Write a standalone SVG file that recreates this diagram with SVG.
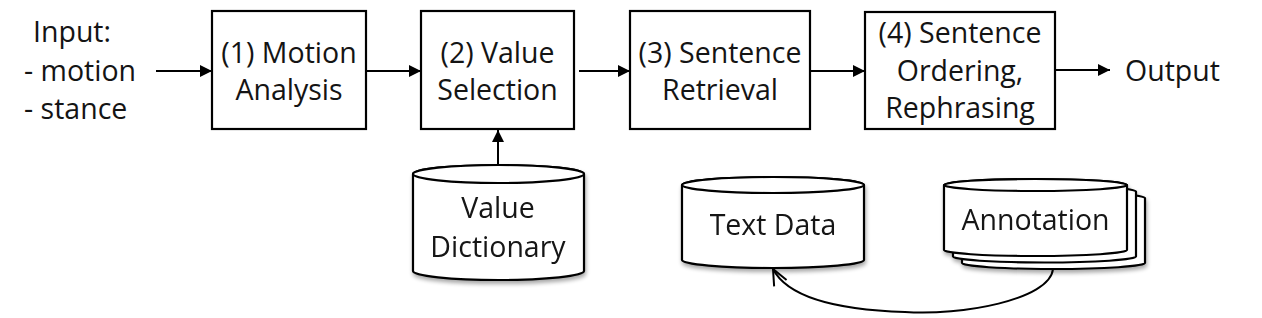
<svg xmlns="http://www.w3.org/2000/svg" width="1262" height="318" viewBox="0 0 1262 318">
<style>
text{font-family:"Open Sans","Liberation Sans",sans-serif;font-size:28.5px;fill:#141414}
.c{text-anchor:middle}
.box{fill:#fff;stroke:#000;stroke-width:2.2}
.cyl{fill:#fff;stroke:#000;stroke-width:2.2}
.ln{fill:none;stroke:#000;stroke-width:2}
</style>
<defs>
<marker id="ah" viewBox="0 0 12 12" refX="12" refY="6" markerWidth="12" markerHeight="12" markerUnits="userSpaceOnUse" orient="auto">
<path d="M0,0 L12,6 L0,12 Z" fill="#000"/>
</marker>
<marker id="oh" viewBox="0 0 20 20" refX="18" refY="10" markerWidth="20" markerHeight="20" markerUnits="userSpaceOnUse" orient="auto">
<path d="M2,3 L18,10 L2,17" fill="none" stroke="#000" stroke-width="2"/>
</marker>
<filter id="sh" x="-10%" y="-10%" width="125%" height="130%">
<feGaussianBlur in="SourceAlpha" stdDeviation="2"/>
<feOffset dx="1" dy="3" result="b"/>
<feComponentTransfer><feFuncA type="linear" slope="0.35"/></feComponentTransfer>
<feMerge><feMergeNode/><feMergeNode in="SourceGraphic"/></feMerge>
</filter>
</defs>
<g id="input">
<text x="33" y="42">Input:</text>
<text x="24" y="81">- motion</text>
<text x="24" y="119">- stance</text>
</g>
<g id="n1"><rect class="box" x="212" y="11" width="154" height="118"/>
<text class="c" x="289" y="63">(1) Motion</text><text class="c" x="289" y="100">Analysis</text></g>
<g id="n2"><rect class="box" x="421" y="11" width="153" height="118"/>
<text class="c" x="497.5" y="63">(2) Value</text><text class="c" x="497.5" y="100">Selection</text></g>
<g id="n3"><rect class="box" x="630" y="11" width="180" height="118"/>
<text class="c" x="720" y="63">(3) Sentence</text><text class="c" x="720" y="100">Retrieval</text></g>
<g id="n4"><rect class="box" x="865" y="12" width="190" height="117"/>
<text class="c" x="960" y="43">(4) Sentence</text><text class="c" x="960" y="81">Ordering,</text><text class="c" x="960" y="118">Rephrasing</text></g>
<g id="output"><text x="1125" y="81">Output</text></g>
<g id="valuedict" filter="url(#sh)">
<path class="cyl" d="M413,174 L413,271 A85.5,9 0 0 0 584,271 L584,174 A85.5,9 0 0 0 413,174 Z"/>
<ellipse class="cyl" cx="498.5" cy="174" rx="85.5" ry="9"/>
<text class="c" x="498" y="218" filter="none">Value</text><text class="c" x="498" y="257">Dictionary</text></g>
<g id="textdata" filter="url(#sh)">
<path class="cyl" d="M682,185 L682,260 A91,8 0 0 0 864,260 L864,185 A91,8 0 0 0 682,185 Z"/>
<ellipse class="cyl" cx="773" cy="185" rx="91" ry="8"/>
<text class="c" x="773" y="235">Text Data</text></g>
<g id="annotation" filter="url(#sh)">
<path class="cyl" d="M962,198 L962,263 A91.5,6 0 0 0 1145,263 L1145,198 A91.5,6 0 0 0 962,198 Z"/>
<path class="cyl" d="M953,191.5 L953,256.5 A91.5,6 0 0 0 1136,256.5 L1136,191.5 A91.5,6 0 0 0 953,191.5 Z"/>
<path class="cyl" d="M944,185 L944,250 A91.5,6 0 0 0 1127,250 L1127,185 A91.5,6 0 0 0 944,185 Z"/>
<ellipse class="cyl" cx="1035.5" cy="185" rx="91.5" ry="6"/>
<text class="c" x="1035.5" y="230">Annotation</text></g>
<g id="connectors">
<line class="ln" x1="156" y1="71" x2="212" y2="71" marker-end="url(#ah)"/>
<line class="ln" x1="367" y1="71" x2="421" y2="71" marker-end="url(#ah)"/>
<line class="ln" x1="579" y1="71" x2="630" y2="71" marker-end="url(#ah)"/>
<line class="ln" x1="811" y1="71" x2="865" y2="71" marker-end="url(#ah)"/>
<line class="ln" x1="1056" y1="70" x2="1110" y2="70" marker-end="url(#ah)"/>
<line class="ln" x1="498" y1="165" x2="498" y2="130" marker-end="url(#ah)"/>
<path class="ln" d="M1053,269 C1050,300 960,316 905,312 C840,310 788,298 773,269" marker-end="url(#oh)"/>
</g>
</svg>
